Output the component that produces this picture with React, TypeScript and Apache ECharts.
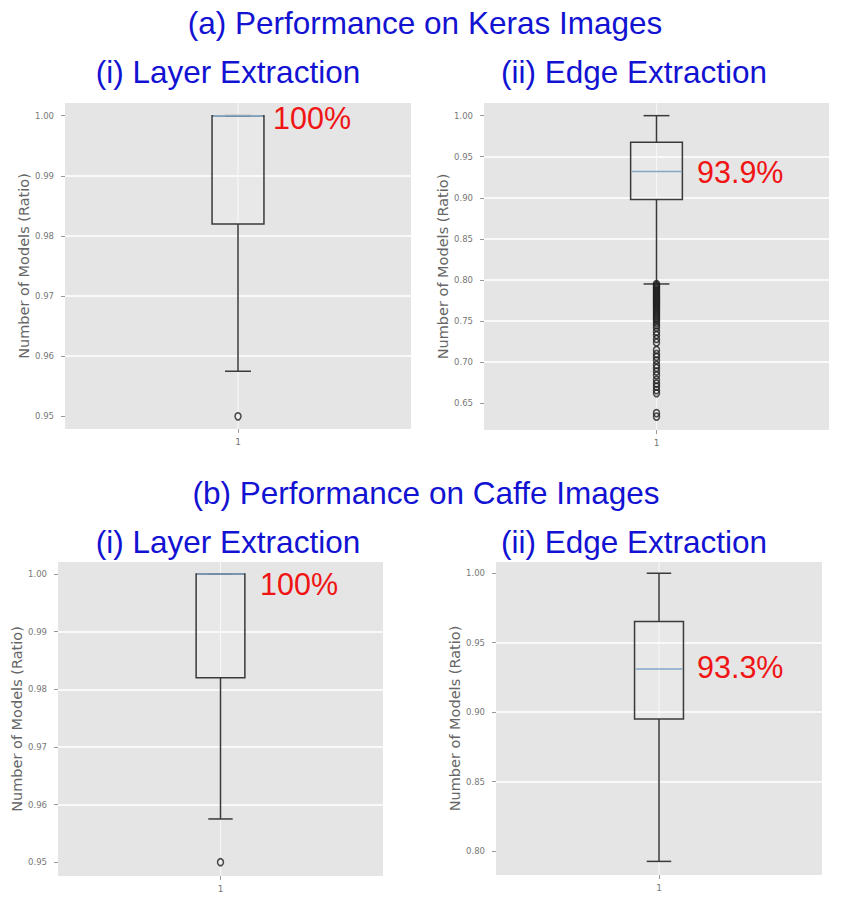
import React, { useEffect, useRef } from "react";
import * as echarts from "echarts";

// ---------- data ----------
const xCategories = [1];
const layerTicks = [0.95, 0.96, 0.97, 0.98, 0.99, 1.0];
const kerasEdgeTicks = [0.65, 0.7, 0.75, 0.8, 0.85, 0.9, 0.95, 1.0];
const caffeEdgeTicks = [0.8, 0.85, 0.9, 0.95, 1.0];

// [lower whisker, Q1, median, Q3, upper whisker]
const kerasLayerBox = [0.9575, 0.982, 1.0, 1.0, 1.0];
const kerasEdgeBox = [0.7952, 0.898, 0.9319, 0.9676, 1.0];
const caffeLayerBox = [0.9575, 0.982, 1.0, 1.0, 1.0];
const caffeEdgeBox = [0.7925, 0.895, 0.931, 0.9652, 1.0];

const kerasLayerOutliers = [0.95];
const kerasEdgeOutliers = [
  0.795, 0.7935, 0.792, 0.7905, 0.789, 0.7875, 0.786, 0.7845, 0.783, 0.7815,
  0.78, 0.7785, 0.777, 0.7755, 0.774, 0.7725, 0.771, 0.7695, 0.768, 0.7665,
  0.765, 0.763, 0.761, 0.759, 0.757, 0.755, 0.753, 0.751, 0.748, 0.745,
  0.742, 0.7372, 0.733, 0.7283, 0.724, 0.7149, 0.71, 0.7064, 0.702, 0.6967,
  0.693, 0.6886, 0.684, 0.6785, 0.674, 0.6703, 0.666, 0.6623, 0.638, 0.6338,
];
const caffeLayerOutliers = [0.95];
const caffeEdgeOutliers: number[] = [];

const yMins = [0.9479, 0.6175, 0.9476, 0.7827];
const yMaxs = [1.0021, 1.0154, 1.0021, 1.0081];

const mainTitles = ["(a) Performance on Keras Images", "(b) Performance on Caffe Images"];
const subTitles = ["(i) Layer Extraction", "(ii) Edge Extraction"];
const accuracyLabels = ["100%", "93.9%", "100%", "93.3%"];
const yAxisName = "Number of Models (Ratio)";

// ---------- layout ----------
const grids = [
  { left: 65, top: 103, width: 346, height: 326 },
  { left: 484, top: 103, width: 345, height: 327 },
  { left: 58, top: 562, width: 325, height: 314 },
  { left: 496, top: 562, width: 326, height: 313 },
];
const nameGaps = [33, 32, 30, 31];
const accPos = [
  [273, 118],
  [697, 171.5],
  [260, 583.5],
  [697, 667],
];

const BLUE = "#1212d2";
const RED = "#f01414";

export default function App() {
  const ref = useRef<HTMLDivElement>(null);

  useEffect(() => {
    if (!ref.current) return;
    const chart = echarts.init(ref.current, undefined, { renderer: "svg" });

    const boxes = [kerasLayerBox, kerasEdgeBox, caffeLayerBox, caffeEdgeBox];
    const outliers = [kerasLayerOutliers, kerasEdgeOutliers, caffeLayerOutliers, caffeEdgeOutliers];
    const ticks = [layerTicks, kerasEdgeTicks, layerTicks, caffeEdgeTicks];

    const xAxes = grids.map((_, i) => ({
      type: "value",
      gridIndex: i,
      min: 0.5,
      max: 1.5,
      interval: 0.5,
      axisLine: { show: false },
      axisTick: {
        show: true,
        customValues: xCategories,
        length: 4,
        lineStyle: { color: "#999", width: 1 },
      },
      axisLabel: {
        show: true,
        customValues: xCategories,
        formatter: (v: number) => String(v),
        color: "#777",
        fontSize: 9,
        fontFamily: "DejaVu Sans",
        margin: 8,
      },
      splitLine: { show: false },
    }));

    const yAxes = grids.map((_, i) => ({
      type: "value",
      gridIndex: i,
      min: yMins[i],
      max: yMaxs[i],
      splitNumber: ticks[i].length,
      name: yAxisName,
      nameLocation: "middle",
      nameRotate: 90,
      nameGap: nameGaps[i],
      nameTextStyle: { color: "#666", fontSize: 14.5, fontFamily: "DejaVu Sans" },
      axisLine: { show: false },
      axisTick: {
        show: true,
        customValues: ticks[i],
        length: 4,
        lineStyle: { color: "#999", width: 1 },
      },
      axisLabel: {
        show: true,
        customValues: ticks[i],
        formatter: (v: number) => v.toFixed(2),
        color: "#777",
        fontSize: 8.5,
        fontFamily: "DejaVu Sans",
        margin: 11,
      },
      splitLine: {
        show: true,
        showMinLine: false,
        showMaxLine: false,
        lineStyle: { color: "#ffffff", width: 1.5 },
      },
    }));

    const boxSeries = boxes.map((b, i) => ({
      type: "custom",
      xAxisIndex: i,
      yAxisIndex: i,
      data: [[xCategories[0], ...b]],
      renderItem: (params: any, api: any) => {
        const x = api.value(0);
        const lo = api.coord([x, api.value(1)]);
        const q1 = api.coord([x, api.value(2)]);
        const med = api.coord([x, api.value(3)]);
        const q3 = api.coord([x, api.value(4)]);
        const hi = api.coord([x, api.value(5)]);
        const band = api.size([1, 0])[0];
        const bw = band * 0.15;
        const cw = bw * 0.5;
        const cx = lo[0];
        const cs = params.coordSys;
        const stroke = { stroke: "#3a3a3a", lineWidth: 1.5, fill: "none" };
        const line = (x1: number, y1: number, x2: number, y2: number, st: any) => ({
          type: "line",
          shape: { x1, y1, x2, y2 },
          style: st,
        });
        return {
          type: "group",
          children: [
            // vertical grid line through the category
            line(cx, cs.y, cx, cs.y + cs.height, { stroke: "#f6f6f6", lineWidth: 1.2 }),
            {
              type: "rect",
              shape: { x: cx - bw / 2, y: q3[1], width: bw, height: q1[1] - q3[1] },
              style: { stroke: "#3a3a3a", lineWidth: 1.5, fill: "rgba(255,255,255,0.12)" },
            },
            line(cx, q3[1], cx, hi[1], stroke),
            line(cx, q1[1], cx, lo[1], stroke),
            line(cx - cw / 2, hi[1], cx + cw / 2, hi[1], stroke),
            line(cx - cw / 2, lo[1], cx + cw / 2, lo[1], stroke),
            line(cx - bw / 2 + 1, med[1], cx + bw / 2 - 1, med[1], {
              stroke: "#82a9c8",
              lineWidth: 1.5,
            }),
          ],
        };
      },
      z: 3,
    }));

    const outlierSeries = outliers.map((o, i) => ({
      type: "scatter",
      xAxisIndex: i,
      yAxisIndex: i,
      data: o.map((v) => [xCategories[0], v]),
      symbol: "circle",
      symbolSize: [6, 7],
      itemStyle: { color: "rgba(0,0,0,0)", borderColor: "#222", borderWidth: 1.6 },
      z: 4,
    }));

    const graphics: any[] = [];
    const titleFont = "Liberation Sans, Arial, sans-serif";
    [
      [mainTitles[0], 425, 23],
      [mainTitles[1], 426, 493],
    ].forEach(([t, x, y]) =>
      graphics.push({
        type: "text",
        x,
        y,
        style: {
          text: t,
          fill: BLUE,
          font: `31.5px ${titleFont}`,
          textAlign: "center",
          textVerticalAlign: "middle",
        },
      })
    );
    [
      [subTitles[0], 228, 71.5],
      [subTitles[1], 634, 71.5],
      [subTitles[0], 228, 541.5],
      [subTitles[1], 634, 541.5],
    ].forEach(([t, x, y]) =>
      graphics.push({
        type: "text",
        x,
        y,
        style: {
          text: t,
          fill: BLUE,
          font: `31.5px ${titleFont}`,
          textAlign: "center",
          textVerticalAlign: "middle",
        },
      })
    );
    accuracyLabels.forEach((t, i) =>
      graphics.push({
        type: "text",
        x: accPos[i][0],
        y: accPos[i][1],
        z: 10,
        style: {
          text: t,
          fill: RED,
          font: `30.5px ${titleFont}`,
          textAlign: "left",
          textVerticalAlign: "middle",
        },
      })
    );

    chart.setOption({
      animation: false,
      backgroundColor: "#ffffff",
      grid: grids.map((g) => ({
        ...g,
        show: true,
        backgroundColor: "#e5e5e5",
        borderWidth: 0,
      })),
      xAxis: xAxes,
      yAxis: yAxes,
      series: [...boxSeries, ...outlierSeries],
      graphic: graphics,
    });

    return () => chart.dispose();
  }, []);

  return (
    <div
      ref={ref}
      style={{ position: "absolute", left: 0, top: 0, width: 856, height: 905 }}
    />
  );
}
